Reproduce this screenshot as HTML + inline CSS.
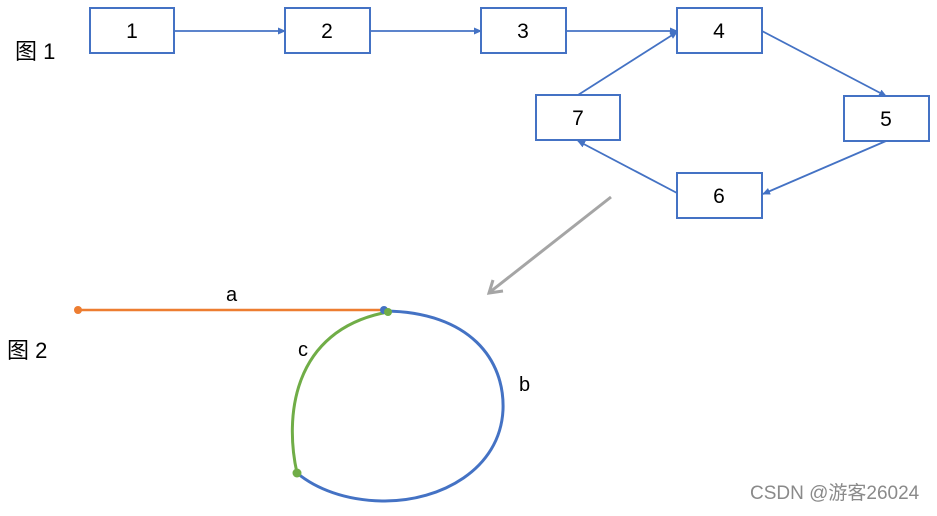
<!DOCTYPE html>
<html><head><meta charset="utf-8"><style>
body{margin:0;background:#fff;width:937px;height:511px;overflow:hidden}
text{font-family:"Liberation Sans","Noto Sans CJK SC",sans-serif}
</style></head><body>
<svg width="937" height="511" viewBox="0 0 937 511" xmlns="http://www.w3.org/2000/svg">
<defs>
<marker id="ab" markerWidth="8" markerHeight="8" refX="7" refY="4" orient="auto" markerUnits="userSpaceOnUse"><path d="M0,0.5 L8,4 L0,7.5z" fill="#4472C4"/></marker>
</defs>
<g fill="none" stroke="#4472C4" stroke-width="2">
<rect x="90" y="8" width="84" height="45"/>
<rect x="285" y="8" width="85" height="45"/>
<rect x="481" y="8" width="85" height="45"/>
<rect x="677" y="8" width="85" height="45"/>
<rect x="536" y="95" width="84" height="45"/>
<rect x="844" y="96" width="85" height="45"/>
<rect x="677" y="173" width="85" height="45"/>
</g>
<g stroke="#4472C4" stroke-width="1.8" marker-end="url(#ab)">
<line x1="174" y1="31" x2="285" y2="31"/>
<line x1="370" y1="31" x2="481" y2="31"/>
<line x1="566" y1="31" x2="677" y2="31"/>
<line x1="762" y1="31" x2="886" y2="96"/>
<line x1="886" y1="141" x2="763" y2="194"/>
<line x1="677" y1="193" x2="578" y2="141"/>
<line x1="578" y1="95" x2="677" y2="32"/>
</g>
<g font-size="21" fill="#000" text-anchor="middle">
<text x="132" y="38">1</text><text x="327" y="38">2</text><text x="523" y="38">3</text><text x="719" y="38">4</text>
<text x="578" y="125">7</text><text x="886" y="126">5</text><text x="719" y="203">6</text>
</g>
<text x="15" y="59" font-size="22">图 1</text>
<text x="7" y="358" font-size="22">图 2</text>
<line x1="611" y1="197" x2="490" y2="292" stroke="#A5A5A5" stroke-width="3"/>
<polyline points="503,291 489,293 493,280" fill="none" stroke="#A5A5A5" stroke-width="3"/>
<line x1="78" y1="310" x2="385" y2="310" stroke="#ED7D31" stroke-width="2.5"/>
<circle cx="78" cy="310" r="4" fill="#ED7D31"/>
<path d="M385,311 C470,312 505,360 503,410 C500,470 440,501 385,501 C345,501 315,488 297,473" fill="none" stroke="#4472C4" stroke-width="3"/>
<path d="M297,473 C285,420 290,330 388,312" fill="none" stroke="#70AD47" stroke-width="3"/>
<circle cx="384" cy="310" r="4" fill="#4472C4"/>
<circle cx="388" cy="312" r="4" fill="#70AD47"/>
<circle cx="297" cy="473" r="4.5" fill="#70AD47"/>
<g font-size="20" fill="#000">
<text x="226" y="301">a</text>
<text x="298" y="356">c</text>
<text x="519" y="391">b</text>
</g>
<text x="750" y="499" font-size="19" fill="#8a8a8a">CSDN @游客26024</text>
</svg>
</body></html>
